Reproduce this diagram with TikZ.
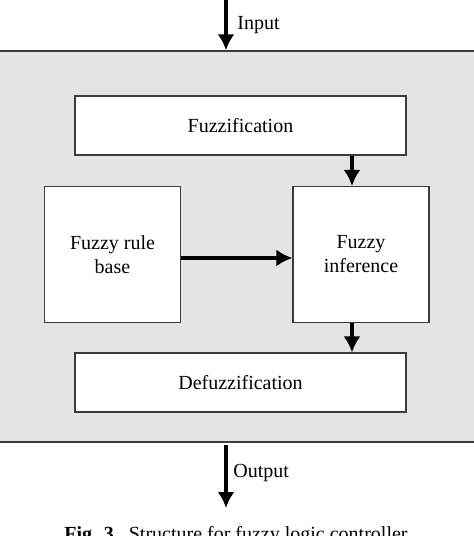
\documentclass[tikz,border=0pt]{standalone}
\usepackage{fontspec}
\setmainfont{Liberation Serif}
\usepackage{tikz}
\usetikzlibrary{positioning,calc,arrows.meta}
\usepackage{xcolor}
\definecolor{panelgray}{HTML}{E3E4E6}
\definecolor{edgegray}{HTML}{3C3C3C}

\tikzset{
  block/.style={draw=edgegray, fill=white, line width=0.6pt, align=center,
    font=\fontsize{10}{12}\selectfont, inner sep=0pt},
  flow/.style={line width=2.4pt, -{Latex[length=8pt,width=8.5pt]}},
  lbl/.style={font=\fontsize{10}{12}\selectfont, inner sep=0pt}
}

\begin{document}
\begin{tikzpicture}[x=0.5pt, y=-0.5pt]
    \useasboundingbox (0,0) rectangle (474,536);
    \clip (0,0) rectangle (474,536);

      % Controller
      \node[draw=edgegray, fill=panelgray, line width=0.7pt,
        minimum width=238pt, minimum height=195.5pt] (panel) at (237,246.5) {};

      % Blocks
      \node[block, minimum width=165.5pt, minimum height=29.5pt] (fuzz) at (240.5,125.5) {Fuzzification};
      \node[block, minimum width=68pt, minimum height=68pt] (rule) at (112.5,254.5) {Fuzzy rule\\base};
      \node[block, minimum width=68pt, minimum height=68pt] (infer) at (361,254.5) {Fuzzy\\inference};
      \node[block, minimum width=165.5pt, minimum height=29.5pt] (defuzz) at (240.5,382.5) {Defuzzification};

      % Input and output
      \coordinate (in) at (226,0);
      \coordinate (out) at (226,508);
      \coordinate (mid) at (352,0);
      \draw[flow] (in) -- (in |- panel.north);
      \draw[flow] ([yshift=-1pt]out |- panel.south) -- (out);
      \node[lbl, anchor=west] (inlbl) at (237,25) {Input};
      \node[lbl, anchor=west] (outlbl) at (233,473) {Output};

      % Flow inside
      \draw[flow] (fuzz.south -| mid) -- (infer.north -| mid);
      \draw[flow] (infer.south -| mid) -- (defuzz.north -| mid);
      \draw[flow] ([yshift=-1.75pt]rule.east) -- ([yshift=-1.75pt]infer.west);

      % Caption
      \node[lbl, anchor=base] (caption) at (236,540)
        {\textbf{Fig. 3.}\enspace Structure for fuzzy logic controller};
  \end{tikzpicture}
\end{document}
